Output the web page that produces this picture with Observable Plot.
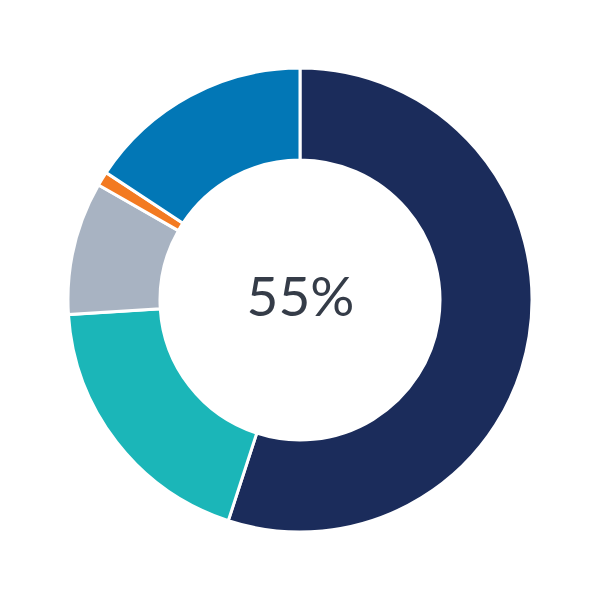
<!DOCTYPE html>
<html>
<head>
<meta charset="utf-8">
<script src="https://cdn.jsdelivr.net/npm/d3@7"></script>
<script src="https://cdn.jsdelivr.net/npm/@observablehq/plot@0.6"></script>
<style>
  html, body { margin: 0; padding: 0; background: #ffffff; }
  #chart { width: 600px; height: 600px; }
</style>
</head>
<body>
<div id="chart"></div>
<script>
// Data
const categories = ["Segment 1", "Segment 2", "Segment 3", "Segment 4", "Segment 5"];
const values = [55, 19, 9.25, 1, 15.75];
const colors = ["#1b2c5b", "#1bb6b8", "#a8b3c2", "#f37a21", "#0277b6"];
const centerLabel = ["55%"];

const slices = categories.map((c, i) => ({ category: c, value: values[i] }));
const color = Plot.scale({ color: { domain: categories, range: colors } });

const outerR = 232;
const innerR = 140;

function donut(index, scales) {
  const cx = scales.x(0), cy = scales.y(0);
  const pie = d3.pie().sort(null).value(d => d.value)(slices);
  const arc = d3.arc().innerRadius(innerR).outerRadius(outerR);
  const g = d3.create("svg:g").attr("transform", `translate(${cx},${cy})`);
  g.selectAll("path")
    .data(pie)
    .join("path")
    .attr("d", arc)
    .attr("fill", d => color.apply(d.data.category))
    .attr("stroke", "#ffffff")
    .attr("stroke-width", 3)
    .attr("stroke-linejoin", "miter");
  return g.node();
}

const chart = Plot.plot({
  width: 600,
  height: 600,
  margin: 0,
  x: { domain: [-1, 1], axis: null },
  y: { domain: [-1, 1], axis: null },
  style: { background: "#ffffff" },
  marks: [
    donut,
    Plot.text(centerLabel, {
      x: () => 0,
      y: () => 0,
      text: d => d,
      fontSize: 55,
      fontFamily: "Lato",
      fill: "#353c48",
      dy: -2
    })
  ]
});
document.getElementById("chart").appendChild(chart);
</script>
</body>
</html>
